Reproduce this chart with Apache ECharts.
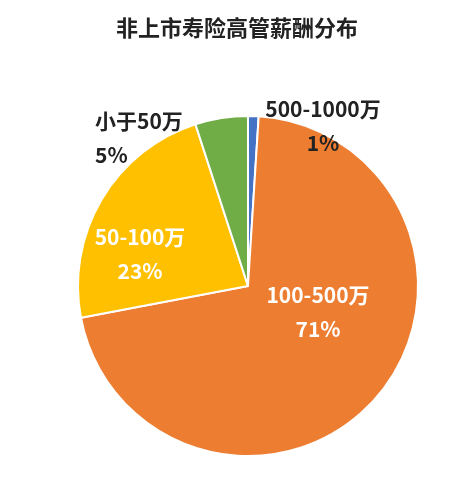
<!DOCTYPE html>
<html><head><meta charset="utf-8">
<script src="https://cdn.jsdelivr.net/npm/echarts@6/dist/echarts.min.js"></script>
<style>html,body{margin:0;background:#fff}#c{width:474px;height:486px}</style>
</head><body><div id="c"></div>
<script>
// 分类与占比
const categories = ['500-1000万', '100-500万', '50-100万', '小于50万'];
const values = [1, 71, 23, 5];
const colors = ['#4472C4', '#ED7D31', '#FFC000', '#70AD47'];
// 标签位置（像素）
const labelPos = [[323, 126, 'center', '#222'], [318, 312, 'center', '#fff'], [140, 254, 'center', '#fff'], [95, 138, 'left', '#222']];

const chart = echarts.init(document.getElementById('c'));
chart.setOption({
    title: {
        text: '非上市寿险高管薪酬分布', left: 'center', top: 12,
        textStyle: {fontSize: 22, fontWeight: 'bold', color: '#222', fontFamily: 'Noto Sans CJK SC'}
    },
    series: [{
        type: 'pie',
        center: [248, 286],
        radius: 170,
        startAngle: 90,
        clockwise: true,
        itemStyle: {borderColor: '#fff', borderWidth: 2},
        labelLine: {show: false},
        label: {
            show: true, position: 'inside',
            formatter: p => p.name + '\n' + p.value + '%',
            fontSize: 21, fontWeight: 'bold', lineHeight: 34,
            fontFamily: 'Noto Sans CJK SC'
        },
        labelLayout: p => {
            const l = labelPos[p.dataIndex];
            return {x: l[0], y: l[1], align: l[2], verticalAlign: 'middle'};
        },
        data: categories.map((n, i) => ({
            name: n, value: values[i],
            itemStyle: {color: colors[i]},
            label: {color: labelPos[i][3], align: labelPos[i][2]}
        }))
    }]
});
</script></body></html>
